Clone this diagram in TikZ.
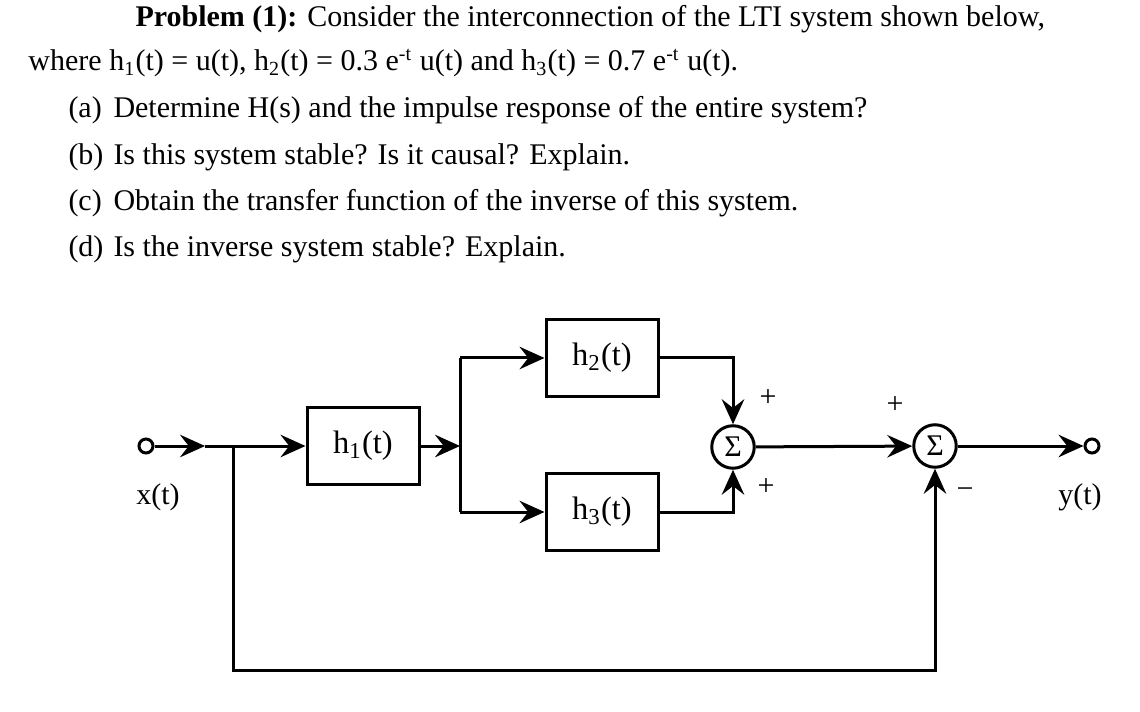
\documentclass[tikz,border=0pt]{standalone}
\usepackage{fontspec}
\setmainfont{Liberation Serif}
\usetikzlibrary{arrows.meta}
\tikzset{
  sig/.style={line width=1.2pt, -{Stealth[length=10pt,width=9pt,inset=3.5pt]}},
  wire/.style={line width=1.2pt},
  blk/.style={draw, line width=1.2pt, minimum width=44.8pt, minimum height=31pt, inner sep=0pt, font=\fontsize{13}{15}\selectfont},
  sumc/.style={draw, circle, line width=1.2pt, minimum size=17pt, inner sep=0pt, font=\fontsize{12}{14}\selectfont},
  port/.style={draw, circle, line width=1.2pt, minimum size=5.6pt, inner sep=0pt},
  txt/.style={anchor=base west, inner sep=0pt, font=\fontsize{12}{14}\selectfont},
  sgn/.style={inner sep=0pt, font=\fontsize{12}{14}\selectfont}
}
\begin{document}
\begin{tikzpicture}[x=0.4pt,y=-0.4pt]
  \useasboundingbox (0,0) rectangle (1140,712);
  % problem text
  \node[txt] (ln1) at (135,27) {\textbf{Problem (1):} Consider the interconnection of the LTI system shown below,};
  \node[txt] (ln2) at (28,71) {where h\textsubscript{1}(t) = u(t), h\textsubscript{2}(t) = 0.3 e\textsuperscript{-t} u(t) and h\textsubscript{3}(t) = 0.7 e\textsuperscript{-t} u(t).};
  \node[txt] (qa) at (68,118) {(a)};
  \node[txt] (ta) at (113,118) {Determine H(s) and the impulse response of the entire system?};
  \node[txt] (qb) at (68,165) {(b)};
  \node[txt] (tb) at (113,165) {Is this system stable? Is it causal? Explain.};
  \node[txt] (qc) at (68,211) {(c)};
  \node[txt] (tc) at (113,211) {Obtain the transfer function of the inverse of this system.};
  \node[txt] (qd) at (68,257) {(d)};
  \node[txt] (td) at (113,257) {Is the inverse system stable? Explain.};

  % blocks
  \node[port] (xin) at (146,446) {};
  \node[blk] (h1) at (363,446) {h\textsubscript{1}(t)};
  \node[blk] (h2) at (602,358) {h\textsubscript{2}(t)};
  \node[blk] (h3) at (602,512) {h\textsubscript{3}(t)};
  \node[sumc] (s1) at (733,447) {Σ};
  \node[sumc] (s2) at (935,446) {Σ};
  \node[port] (yout) at (1092,446) {};
  \coordinate (tip) at (205,446);
  \coordinate (jn) at (233,446);
  \coordinate (br) at (460,446);
  \coordinate (fb) at (935,670);

  % connectors
  \draw[sig] (xin) -- (tip);
  \draw[sig] (tip) -- (h1);
  \draw[sig] (h1) -- (br);
  \draw[wire] (br |- h2) -- (br |- h3);
  \draw[sig] (br |- h2) -- (h2);
  \draw[sig] (br |- h3) -- (h3);
  \draw[sig] (h2) -| (s1);
  \draw[sig] (h3) -| (s1);
  \draw[sig] (s1) -- (s2);
  \draw[sig] (s2) -- (yout);
  \draw[sig] (jn) |- (fb) -- (s2);

  % signs and labels
  \node[sgn] (p1) at (768,398) {+};
  \node[sgn] (p2) at (766,487) {+};
  \node[sgn] (p3) at (895,405) {+};
  \node[sgn] (m1) at (965,493) {−};
  \node[sgn] (xl) at (158,497) {x(t)};
  \node[sgn] (yl) at (1080,497) {y(t)};
\end{tikzpicture}
\end{document}
